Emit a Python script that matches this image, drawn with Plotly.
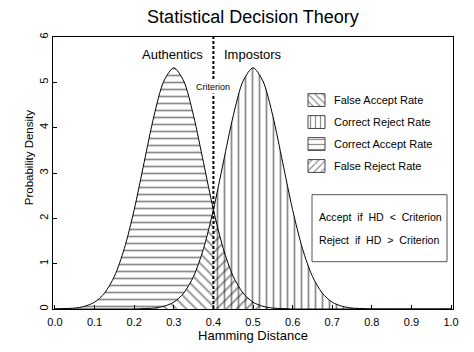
import plotly.graph_objects as go

# Hamming distance grid
hd = [0.0, 0.025, 0.05, 0.075, 0.1, 0.125, 0.15, 0.175, 0.2, 0.225,
      0.25, 0.275, 0.3, 0.325, 0.35, 0.375, 0.4, 0.425, 0.45, 0.475,
      0.5, 0.525, 0.55, 0.575, 0.6, 0.625, 0.65, 0.675, 0.7, 0.725,
      0.75, 0.775, 0.8, 0.825, 0.85, 0.875, 0.9, 0.925, 0.95, 0.975, 1.0]

# Probability densities
authentics = [0.00, 0.01, 0.02, 0.06, 0.15, 0.35, 0.72, 1.33, 2.19, 3.23,
              4.26, 5.03, 5.32, 5.03, 4.26, 3.23, 2.19, 1.33, 0.72, 0.35,
              0.15, 0.06, 0.02, 0.01, 0.00, 0.00, 0.00, 0.00, 0.00, 0.00,
              0.00, 0.00, 0.00, 0.00, 0.00, 0.00, 0.00, 0.00, 0.00, 0.00, 0.00]
impostors = [0.00, 0.00, 0.00, 0.00, 0.00, 0.00, 0.00, 0.00, 0.00, 0.01,
             0.02, 0.06, 0.15, 0.35, 0.72, 1.33, 2.19, 3.23, 4.26, 5.03,
             5.32, 5.03, 4.26, 3.23, 2.19, 1.33, 0.72, 0.35, 0.15, 0.06,
             0.02, 0.01, 0.00, 0.00, 0.00, 0.00, 0.00, 0.00, 0.00, 0.00, 0.00]

criterion = 0.4
x_ticks = [0.0, 0.1, 0.2, 0.3, 0.4, 0.5, 0.6, 0.7, 0.8, 0.9, 1.0]
y_ticks = [0, 1, 2, 3, 4, 5, 6]

legend_labels = ["False Accept Rate", "Correct Reject Rate",
                 "Correct Accept Rate", "False Reject Rate"]
legend_shapes = ["\\", "|", "-", "/"]

FONT = "Liberation Sans, Arial, sans-serif"
PAT = dict(fgcolor="#1a1a1a", size=7, solidity=0.25)

# plot area in pixels
PL, PR, PT, PB = 53, 453, 37, 313
PW, PH = PR - PL, PB - PT

left = [i for i, v in enumerate(hd) if v <= criterion]
right = [i for i, v in enumerate(hd) if v >= criterion]

fig = go.Figure()

def area(idx, ys, shape, bg):
    fig.add_trace(go.Scatter(
        x=[hd[i] for i in idx], y=[ys[i] for i in idx],
        mode="lines", line=dict(width=0, color="#222", shape="spline", smoothing=0.8),
        fill="tozeroy", fillcolor="rgba(0,0,0,0)",
        fillpattern=dict(shape=shape, bgcolor=bg, **PAT),
        showlegend=False, hoverinfo="skip"))

area(left, authentics, "-", "white")
area(left, impostors, "\\", "white")
area(right, impostors, "|", "white")
area(right, authentics, "/", "rgba(0,0,0,0)")

for ys in (authentics, impostors):
    fig.add_trace(go.Scatter(x=hd, y=ys, mode="lines",
                             line=dict(color="black", width=1, shape="spline", smoothing=0.8),
                             showlegend=False, hoverinfo="skip"))

# criterion line
fig.add_shape(type="line", x0=criterion, x1=criterion, y0=0, y1=6,
              xref="x", yref="y", line=dict(color="black", width=2, dash="3px,2px"))

def note(x, y, text, size, xref="x", yref="y", xanchor="center", **kw):
    fig.add_annotation(x=x, y=y, xref=xref, yref=yref, text=text, showarrow=False,
                       xanchor=xanchor, yanchor="middle",
                       font=dict(size=size, color="black", family=FONT), **kw)

note(criterion, 4.89, "Criterion", 9, bgcolor="white", borderpad=1)
note(0.296, 5.62, "Authentics", 13)
note(0.5, 5.62, "Impostors", 13)

# legend keys drawn on a hidden pixel-unit overlay axis
for k, (lab, shp) in enumerate(zip(legend_labels, legend_shapes)):
    cy = PB - (101 + 22.3 * k)
    x0, x1 = 308 - PL, 325 - PL
    y0, y1 = cy - 6.5, cy + 6.5
    fig.add_trace(go.Scatter(
        x=[x0, x1, x1, x0, x0], y=[y0, y0, y1, y1, y0], xaxis="x2", yaxis="y2",
        mode="lines", line=dict(color="#444", width=1),
        fill="toself", fillcolor="rgba(0,0,0,0)",
        fillpattern=dict(shape=shp, bgcolor="white", fgcolor="#222", size=5, solidity=0.25),
        showlegend=False, hoverinfo="skip"))
    note((332 - PL) / PW, cy / PH, lab, 11, xref="paper", yref="paper", xanchor="left")

# rule box
fig.add_shape(type="rect", xref="paper", yref="paper",
              x0=(312 - PL) / PW, x1=(447 - PL) / PW,
              y0=(PB - 265) / PH, y1=(PB - 197) / PH,
              line=dict(color="#555", width=1), fillcolor="white")
note((317 - PL) / PW, (PB - 220) / PH, "Accept  if  HD  &lt;  Criterion", 10.6,
     xref="paper", yref="paper", xanchor="left")
note((317 - PL) / PW, (PB - 243) / PH, "Reject  if  HD  &gt;  Criterion", 10.6,
     xref="paper", yref="paper", xanchor="left")

# y-axis title
note((29 - PL) / PW, (PB - 160) / PH, "Probability Density", 11.5,
     xref="paper", yref="paper", textangle=-90)

axis_common = dict(showline=True, linecolor="black", linewidth=1, mirror=True,
                   showgrid=False, zeroline=False, ticks="inside", ticklen=4,
                   tickcolor="black", tickfont=dict(size=11, color="black", family=FONT))

fig.update_layout(
    width=474, height=352,
    margin=dict(l=PL, r=474 - PR, t=PT, b=352 - PB),
    paper_bgcolor="white", plot_bgcolor="white",
    showlegend=False,
    title=dict(text="Statistical Decision Theory", x=253 / 474, xanchor="center",
               y=1 - 17 / 352, yanchor="middle",
               font=dict(size=18, color="black", family=FONT)),
    xaxis=dict(range=[-0.005, 1.005], tickvals=x_ticks,
               ticktext=[f"{v:.1f}" for v in x_ticks], ticklabelstandoff=3,
               title=dict(text="Hamming Distance", standoff=3,
                          font=dict(size=13, color="black", family=FONT)),
               **axis_common),
    yaxis=dict(range=[0, 6], tickvals=y_ticks, tickangle=-90, **axis_common),
    xaxis2=dict(range=[0, PW], overlaying="x", visible=False, fixedrange=True),
    yaxis2=dict(range=[0, PH], overlaying="y", visible=False, fixedrange=True),
)

fig.write_html("out.html")
